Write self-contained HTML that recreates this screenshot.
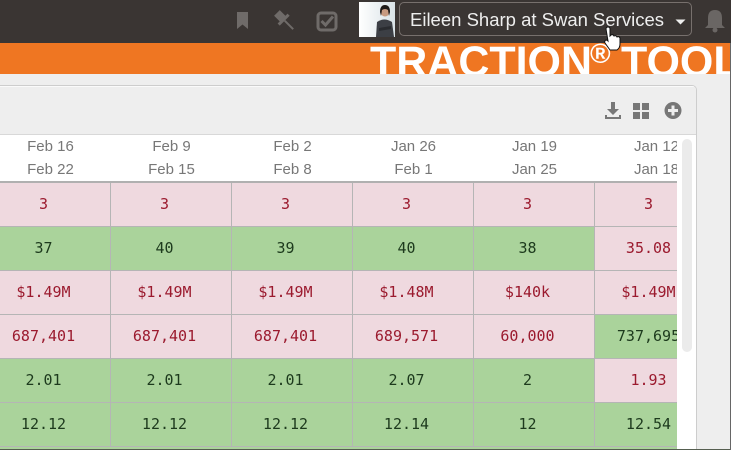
<!DOCTYPE html>
<html><head><meta charset="utf-8"><style>
html,body{margin:0;padding:0;}
body{width:731px;height:450px;overflow:hidden;position:relative;background:#eeeeee;font-family:"Liberation Sans",sans-serif;}
.abs{position:absolute;}
#top{left:0;top:0;width:731px;height:43px;background:#3a3533;}
#ban{left:0;top:43px;width:731px;height:31px;background:#ef7622;overflow:hidden;}
#btn{left:399px;top:2px;width:293px;height:34px;border:1px solid #77706d;border-radius:5px;box-sizing:border-box;}
#btntxt{left:410px;top:8px;font-size:18.5px;color:#eeeeee;white-space:nowrap;line-height:24px;}
#panel{left:-2px;top:85px;width:699px;height:365px;border:1px solid #cdcdcd;border-bottom:none;border-radius:0 5px 0 0;background:#fff;box-sizing:border-box;overflow:hidden;}
#phead{left:0;top:0;width:697px;height:49px;background:#eeeeee;border-top:1px solid #fafafa;border-bottom:1px solid #d8d8d8;box-sizing:border-box;}
.hd{position:absolute;width:121px;text-align:center;color:#777;font-size:15px;line-height:23px;}
.c{position:absolute;width:120px;height:43px;border-left:1px solid #b5b5b5;border-bottom:1px solid #b5b5b5;font-family:"DejaVu Sans Mono","Liberation Mono",monospace;font-size:15px;line-height:43px;text-align:center;text-indent:-13px;white-space:nowrap;overflow:hidden;}
.p{background:#efd9df;color:#9b1a2e;}
.g{background:#aad39b;color:#1d3a1d;}
#clip{left:0;top:181px;width:677px;height:268px;overflow:hidden;}
</style></head><body>
<div id="top" class="abs"></div>
<div id="ban" class="abs">
<svg width="731" height="31" style="position:absolute;left:0;top:0">
<text x="370" y="33" font-family="Liberation Sans" font-weight="bold" font-size="43" fill="#fff" textLength="222" lengthAdjust="spacingAndGlyphs">TRACTION</text>
<text x="590" y="20" font-family="Liberation Sans" font-weight="bold" font-size="28" fill="#fff">®</text>
<text x="621" y="33" font-family="Liberation Sans" font-weight="bold" font-size="43" fill="#fff">TOOLS</text>
</svg>
</div>
<svg class="abs" style="left:0;top:0" width="731" height="43">
<path d="M237 12 h11 v17 l-5.5 -4.5 l-5.5 4.5 z" fill="#6f6b69"/>
<g transform="translate(284 20) rotate(-45)">
<rect x="-4" y="-10" width="8" height="9" fill="#6f6b69"/>
<rect x="-7" y="-2" width="14" height="3" fill="#6f6b69"/>
<rect x="-1" y="1" width="2" height="12" fill="#6f6b69"/>
</g>
<rect x="318" y="13" width="18" height="17" rx="3" fill="none" stroke="#6f6b69" stroke-width="3"/>
<polyline points="321.5,21 325.5,25 333,16.5" fill="none" stroke="#6f6b69" stroke-width="3"/>
<defs><linearGradient id="av" x1="0" x2="1"><stop offset="0" stop-color="#ffffff"/><stop offset="1" stop-color="#d8e2e6"/></linearGradient></defs>
<rect x="359" y="2" width="36" height="35" fill="url(#av)"/>
<path d="M376 37 L377 22 Q384 17 392 22 L394 37 Z" fill="#3c3f45"/>
<circle cx="385" cy="12" r="4.5" fill="#c79a80"/>
<path d="M380 12 Q380 5 385 5 Q390 5 390 12 L389 16 L388 10 Q385 8 382 10 L381 16 Z" fill="#1e1a18"/>
<path d="M379 28 L391 26 L391 29 L379 31 Z" fill="#2a2c30"/>
<path d="M715 10 q-7 0 -7 8 v7 l-3 3 h20 l-3 -3 v-7 q0 -8 -7 -8 z" fill="#6a6664"/>
<circle cx="715" cy="30" r="2.5" fill="#6a6664"/>
</svg>
<div id="btn" class="abs"></div>
<div id="btntxt" class="abs">Eileen Sharp at Swan Services</div>
<svg class="abs" style="left:0;top:0" width="731" height="60">
<path d="M675.5 19.5 h10 l-5 5 z" fill="#eeeeee"/>
<path d="M606 29 q0-2 2-2 q2 0 2 2 v7 l1-1 q2-1 3 1 l0 0 q2-1 3 1 q2-1 3 1 v6 q0 4-3 6 h-7 l-5-7 q-1-2 1-3 l0 0 q1 0 2 1 z" fill="#fff" stroke="#111" stroke-width="1"/>
</svg>
<div id="panel" class="abs">
<div id="phead" class="abs"></div>
<div class="hd" style="left:-9px;top:49px">Feb 16<br>Feb 22</div>
<div class="hd" style="left:112px;top:49px">Feb 9<br>Feb 15</div>
<div class="hd" style="left:233px;top:49px">Feb 2<br>Feb 8</div>
<div class="hd" style="left:354px;top:49px">Jan 26<br>Feb 1</div>
<div class="hd" style="left:475px;top:49px">Jan 19<br>Jan 25</div>
</div>
<svg class="abs" style="left:0;top:85px" width="700" height="48">
<g fill="#777">
<rect x="611" y="17" width="4" height="8"/>
<path d="M607 24 h12 l-6 6 z"/>
<rect x="605" y="30" width="2" height="4"/>
<rect x="619" y="30" width="2" height="4"/>
<rect x="605" y="32" width="16" height="2"/>
<rect x="633" y="18" width="7" height="7"/>
<rect x="642" y="18" width="7" height="7"/>
<rect x="633" y="27" width="7" height="7"/>
<rect x="642" y="27" width="7" height="7"/>
<circle cx="673" cy="25.5" r="8.5"/>
</g>
<rect x="671.5" y="20.5" width="3" height="10" fill="#eee"/>
<rect x="668" y="24" width="10" height="3" fill="#eee"/>
</svg>
<div class="abs" style="left:596px;top:135px;width:81px;height:46px;background:#fff;overflow:hidden;">
<div style="position:absolute;left:0;width:121px;text-align:center;color:#777;font-size:15px;line-height:23px;top:0">Jan 12<br>Jan 18</div>
</div>
<div class="abs" style="left:677px;top:135px;width:19px;height:315px;background:#fff;"></div>
<div class="abs" style="left:682px;top:139px;width:10px;height:213px;background:#ebebeb;border-radius:5px"></div>
<div id="clip" class="abs">
<div class="abs" style="left:0;top:0;width:677px;height:2px;background:#b0b0b0"></div>
<div class="c p" style="left:-11px;top:2px">3</div>
<div class="c p" style="left:110px;top:2px">3</div>
<div class="c p" style="left:231px;top:2px">3</div>
<div class="c p" style="left:352px;top:2px">3</div>
<div class="c p" style="left:473px;top:2px">3</div>
<div class="c p" style="left:594px;top:2px">3</div>

<div class="c g" style="left:-11px;top:46px">37</div>
<div class="c g" style="left:110px;top:46px">40</div>
<div class="c g" style="left:231px;top:46px">39</div>
<div class="c g" style="left:352px;top:46px">40</div>
<div class="c g" style="left:473px;top:46px">38</div>
<div class="c p" style="left:594px;top:46px">35.08</div>

<div class="c p" style="left:-11px;top:90px">$1.49M</div>
<div class="c p" style="left:110px;top:90px">$1.49M</div>
<div class="c p" style="left:231px;top:90px">$1.49M</div>
<div class="c p" style="left:352px;top:90px">$1.48M</div>
<div class="c p" style="left:473px;top:90px">$140k</div>
<div class="c p" style="left:594px;top:90px">$1.49M</div>

<div class="c p" style="left:-11px;top:134px">687,401</div>
<div class="c p" style="left:110px;top:134px">687,401</div>
<div class="c p" style="left:231px;top:134px">687,401</div>
<div class="c p" style="left:352px;top:134px">689,571</div>
<div class="c p" style="left:473px;top:134px">60,000</div>
<div class="c g" style="left:594px;top:134px">737,695</div>

<div class="c g" style="left:-11px;top:178px">2.01</div>
<div class="c g" style="left:110px;top:178px">2.01</div>
<div class="c g" style="left:231px;top:178px">2.01</div>
<div class="c g" style="left:352px;top:178px">2.07</div>
<div class="c g" style="left:473px;top:178px">2</div>
<div class="c p" style="left:594px;top:178px">1.93</div>

<div class="c g" style="left:-11px;top:222px">12.12</div>
<div class="c g" style="left:110px;top:222px">12.12</div>
<div class="c g" style="left:231px;top:222px">12.12</div>
<div class="c g" style="left:352px;top:222px">12.14</div>
<div class="c g" style="left:473px;top:222px">12</div>
<div class="c g" style="left:594px;top:222px">12.54</div>

<div class="abs" style="left:0;top:266px;width:677px;height:2px;background:#aad39b"></div>
</div>
<div class="abs" style="left:0;top:449px;width:731px;height:1px;background:#555e50"></div>
<div class="abs" style="left:730px;top:43px;width:1px;height:407px;background:#666"></div>
</body></html>
